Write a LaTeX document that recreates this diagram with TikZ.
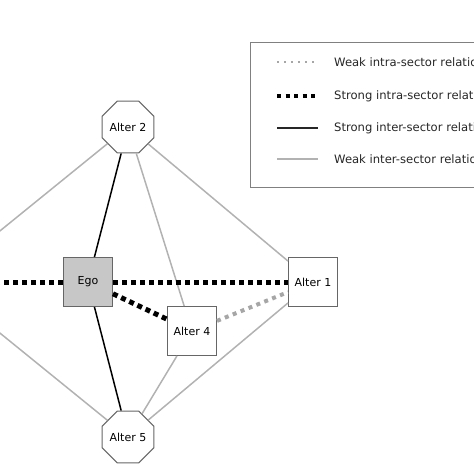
\documentclass[tikz,border=0pt]{standalone}
\usepackage{fontspec}
\setmainfont{DejaVu Sans}
\usetikzlibrary{shapes.geometric}

\begin{document}
\begin{tikzpicture}[x=1pt,y=-1pt,
		actor/.style={draw=black!60,line width=1pt,minimum size=49pt,inner sep=0pt,fill=white,font=\fontsize{11}{13}\selectfont},
		octa/.style={actor,regular polygon,regular polygon sides=8,minimum size=51pt},
		weakintra/.style={black!35,line width=4pt,dash pattern=on 4pt off 4.5pt},
		strongintra/.style={black,line width=5pt,dash pattern=on 5pt off 4pt},
		stronginter/.style={black,line width=1.5pt},
		weakinter/.style={black!30,line width=1.5pt}]
		\useasboundingbox (0,0) rectangle (474,474);
		\clip (0,0) rectangle (474,474);
		% actors
		\node[actor,fill=black!22] (ego) at (88,282) {Ego};
		\node[actor] (alt1) at (313,282) {Alter 1};
		\node[octa] (alt2) at (128,127) {Alter 2};
		\coordinate (alt3) at (-63,282);
		\node[actor] (alt4) at (192,331) {Alter 4};
		\node[octa] (alt5) at (128,437) {Alter 5};
		% relations
		\draw[weakinter] (alt2) -- (alt3);
		\draw[weakinter] (alt2) -- (alt4);
		\draw[weakinter] (alt2) -- (alt1);
		\draw[weakinter] (alt5) -- (alt3);
		\draw[weakinter] (alt5) -- (alt4);
		\draw[weakinter] (alt5) -- (alt1);
		\draw[stronginter] (alt2) -- (ego);
		\draw[stronginter] (ego) -- (alt5);
		\draw[strongintra] (ego) -- (alt3);
		\draw[strongintra] (ego) -- (alt1);
		\draw[strongintra] (ego) -- (alt4);
		\draw[weakintra] (alt4) -- (alt1);
		% legend
		\draw[black!50,line width=1pt] (250,42) rectangle (500,187);
		\draw[weakintra,line width=2pt,dash pattern=on 2pt off 5pt] (277,62) -- (318,62);
		\draw[strongintra,line width=4pt,dash pattern=on 4pt off 4.5pt] (277,96) -- (318,96);
		\draw[stronginter,black!85,line width=2pt] (277,128) -- (318,128);
		\draw[weakinter,line width=2.5pt] (277,159) -- (318,159);
		\foreach \y/\txt in {62/Weak intra-sector relations,96/Strong intra-sector relations,128/Strong inter-sector relations,159/Weak inter-sector relations}
			\node[anchor=west,inner sep=0pt,text=black!85,font=\fontsize{11.6}{14}\selectfont] at (334,\y) {\txt};
\end{tikzpicture}
\end{document}
